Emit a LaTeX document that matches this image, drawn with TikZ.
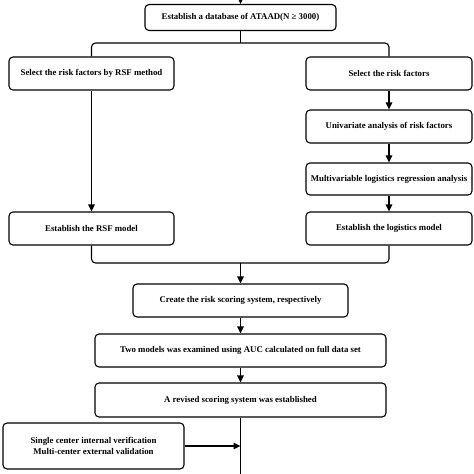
\documentclass[tikz,border=0pt]{standalone}
\usepackage{fontspec}
\setmainfont{Liberation Serif}
\usetikzlibrary{arrows.meta}

\begin{document}
\begin{tikzpicture}[x=1pt, y=-1pt,
        box/.style={draw, line width=1.1pt, rounded corners=4pt, align=center,
            font=\fontsize{8.8}{11}\selectfont\bfseries, inner sep=0pt},
        link/.style={line width=1.1pt, rounded corners=4pt},
        arr/.style={link, -{Triangle[length=7pt, width=6.5pt]}}]
        \useasboundingbox (0,0) rectangle (474,474);

        \node[box, minimum width=191pt, minimum height=26pt] (db) at (240.5,17.5) {Establish a database of ATAAD(N ≥ 3000)};
        \node[box, minimum width=165pt, minimum height=33pt] (rsfsel) at (91.5,73.5) {Select the risk factors by RSF method};
        \node[box, minimum width=166pt, minimum height=33pt] (sel) at (389,73.5) {Select the risk factors};
        \node[box, minimum width=166pt, minimum height=33pt] (uni) at (389,126.5) {Univariate analysis of risk factors};
        \node[box, minimum width=166pt, minimum height=32pt] (multi) at (389,179) {Multivariable logistics regression analysis};
        \node[box, minimum width=166pt, minimum height=33pt] (logit) at (389,228.5) {Establish the logistics model};
        \node[box, minimum width=165pt, minimum height=33pt] (rsfmod) at (91.5,228.5) {Establish the RSF model};
        \node[box, minimum width=215pt, minimum height=33pt] (score) at (240.5,300.5) {Create the risk scoring system, respectively};
        \node[box, minimum width=291pt, minimum height=33pt] (two) at (240.5,350.5) {Two models was examined using AUC calculated on full data set};
        \node[box, minimum width=291pt, minimum height=34pt] (revised) at (240.5,400) {A revised scoring system was established};
        \node[box, minimum width=181pt, minimum height=46pt] (valid) at (93.5,446) {Single center internal verification\\Multi-center external validation};

        \coordinate (top) at (240.5,-6);
        \coordinate (split) at (240.5,43);
        \coordinate (join) at (240.5,263);
        \coordinate (bottom) at (240.5,482);
        \coordinate (hit) at (revised.south |- valid.east);

        \draw[arr] (top) -- (db);
        \draw[link] (db) -- (split);
        \draw[link] (split) -| (rsfsel.north);
        \draw[link] (split) -| (sel.north);

        \draw[arr] (rsfsel) -- (rsfmod);
        \draw[arr] (sel) -- (uni);
        \draw[arr] (uni) -- (multi);
        \draw[arr] (multi) -- (logit);

        \draw[link] (rsfmod.south) |- (join) -| (logit.south);
        \draw[arr] (join) -- (score);
        \draw[arr] (score) -- (two);
        \draw[arr] (two) -- (revised);

        \draw[arr] (revised) -- (bottom);
        \draw[arr] (valid) -- (hit);
\end{tikzpicture}
\end{document}
